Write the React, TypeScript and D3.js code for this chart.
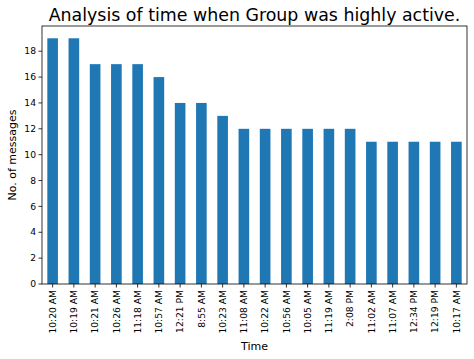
import React from "react";
import * as d3 from "d3";

const categories = ["10:20 AM","10:19 AM","10:21 AM","10:26 AM","11:18 AM","10:57 AM","12:21 PM","8:55 AM","10:23 AM","11:08 AM","10:22 AM","10:56 AM","10:05 AM","11:19 AM","2:08 PM","11:02 AM","11:07 AM","12:34 PM","12:19 PM","10:17 AM"];
const values = [19,19,17,17,17,16,14,14,13,12,12,12,12,12,12,11,11,11,11,11];
const yTicks = [0,2,4,6,8,10,12,14,16,18];
const title = "Analysis of time when Group was highly active.";
const xLabel = "Time";
const yLabel = "No. of messages";

export default function App() {
  const W = 474, H = 359;
  const left = 42, right = 467, top = 26, bottom = 284;
  const n = categories.length;
  const x = d3.scaleLinear().domain([-0.5, n - 0.5]).range([left, right]);
  const ymax = d3.max(values)! * 1.05;
  const y = d3.scaleLinear().domain([0, ymax]).range([bottom, top]);
  const font = "DejaVu Sans, sans-serif";
  const bw = x(0.25) - x(-0.25);
  return (
    <svg width={W} height={H} style={{ position: "absolute", left: 0, top: 0, background: "#fff" }} fontFamily={font}>
      <rect x={0} y={0} width={W} height={H} fill="#fff" />
      {values.map((v, i) => (
        <rect key={i} x={x(i) - bw / 2} y={y(v)} width={bw} height={y(0) - y(v)} fill="#1f77b4" />
      ))}
      {yTicks.map((t) => (
        <g key={t}>
          <line x1={left - 3.5} x2={left} y1={y(t)} y2={y(t)} stroke="#000" strokeWidth={0.8} />
          <text x={left - 6} y={y(t)} dy="0.35em" textAnchor="end" fontSize={9.2} fill="#000">{t}</text>
        </g>
      ))}
      {categories.map((c, i) => (
        <g key={c}>
          <line x1={x(i)} x2={x(i)} y1={bottom} y2={bottom + 3.5} stroke="#000" strokeWidth={0.8} />
          <text transform={`translate(${x(i)},${bottom + 6}) rotate(-90)`} dy="0.35em" textAnchor="end" fontSize={9.2} fill="#000">{c}</text>
        </g>
      ))}
      <rect x={left} y={top} width={right - left} height={bottom - top} fill="none" stroke="#000" strokeWidth={0.8} />
      <text x={(left + right) / 2} y={21} textAnchor="middle" fontSize={17.4} fill="#000">{title}</text>
      <text x={(left + right) / 2} y={350} textAnchor="middle" fontSize={11} fill="#000">{xLabel}</text>
      <text transform={`translate(16,${(top + bottom) / 2}) rotate(-90)`} textAnchor="middle" fontSize={11} fill="#000">{yLabel}</text>
    </svg>
  );
}
